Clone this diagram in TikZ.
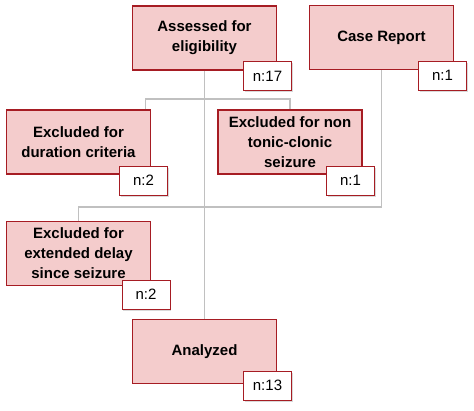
\documentclass[tikz,border=0pt]{standalone}
\usepackage{fontspec}
\setmainfont{Liberation Sans}
\usetikzlibrary{shadows}

\definecolor{boxfill}{RGB}{244,204,204}
\definecolor{boxline}{RGB}{166,28,35}
\definecolor{linkgray}{RGB}{192,192,192}

\begin{document}
\begin{tikzpicture}[x=1pt, y=-1pt,
    stage/.style={draw=boxline, line width=1.8pt, fill=boxfill,
        minimum width=144pt, minimum height=64pt, align=center,
        font=\bfseries\fontsize{15}{20}\selectfont},
    count/.style={draw=boxline, line width=0.8pt, fill=white,
        minimum width=48pt, minimum height=29pt,
        font=\fontsize{15}{18}\selectfont,
        drop shadow={shadow xshift=1pt, shadow yshift=-1.5pt, opacity=0.3}},
    link/.style={draw=linkgray, line width=1.8pt}]

    \useasboundingbox (0,0) rectangle (474,410);

    % --------------------------
    % stages
    % --------------------------
    \node[stage] (assessed) at (204.5,38)  {Assessed for\\eligibility};
    \node[stage] (casereport) at (381.5,37.5) {Case Report};
    \node[stage] (duration) at (78.5,142)  {Excluded for\\duration criteria};
    \node[stage] (tonic)    at (290,142)   {Excluded for non\\tonic-clonic\\seizure};
    \node[stage] (delay)    at (78.5,253.5) {Excluded for\\extended delay\\since seizure};
    \node[stage] (analyzed) at (204.5,351.5) {Analyzed};

    % --------------------------
    % connectors
    % --------------------------
    \coordinate (upperjoin) at (0,99);
    \coordinate (lowerjoin) at (0,207);

    \draw[link] (assessed.south) -- (analyzed.north);
    \draw[link] ([xshift=-6pt]duration.north east) |- (tonic.north |- upperjoin) -- (tonic.north);
    \draw[link] (casereport.south) |- (delay.north |- lowerjoin) -- (delay.north);

    % --------------------------
    % counts
    % --------------------------
    \node[count] (nassessed) at (267.5,76)    {n:17};
    \node[count] (ncase)     at (442.5,75.5)  {n:1};
    \node[count] (nduration) at (143.5,180.5) {n:2};
    \node[count] (ntonic)    at (350.5,180.5) {n:1};
    \node[count] (ndelay)    at (146,294.5)   {n:2};
    \node[count] (nanalyzed) at (267.5,385.5) {n:13};

\end{tikzpicture}
\end{document}
